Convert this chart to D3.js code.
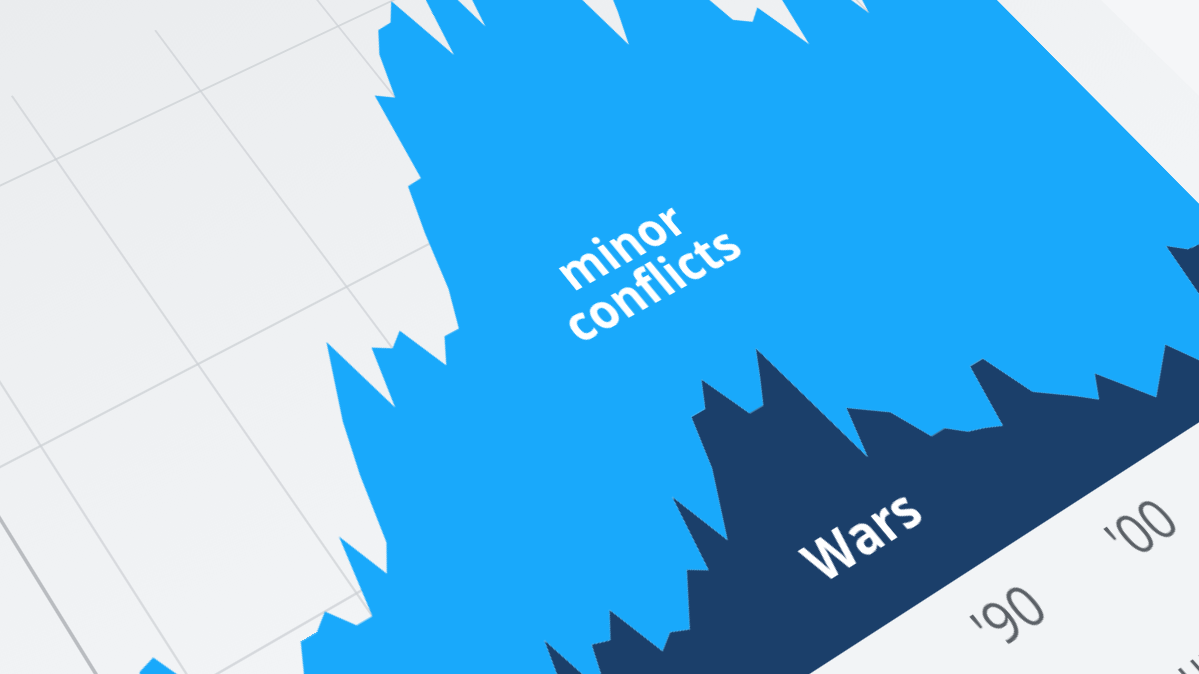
<!DOCTYPE html>
<html><head><meta charset="utf-8">
<script src="https://cdn.jsdelivr.net/npm/d3@7"></script>
<style>
html,body{margin:0;padding:0;width:1199px;height:674px;overflow:hidden;background:#f5f6f8;}
#chart{position:absolute;left:0;top:0;transform-origin:0 0 0;}
</style></head><body>
<svg id="chart"></svg>
<script>
// ---- data (number of armed conflicts per year) ----
const years = d3.range(1946, 2019);
const wars = [3,4,5,5,5,5,4,3,2,2, 4,3,4,3,3,4,4,3,4,5, 5,8.2,4.2,6.8,6.5,7.8,4.7,5.3,4.9,6.2,
  7.5,6.9,11.1,7.7,9.5,11.3,14.2,14.2,15.7,12.8, 12.8,14.2,15.7,7.6,10.4,9.7,9.0,6.8,6.8,6.0,
  5.7,5.3,8.9,8.9,6.0,5.3,4.6,3.8,5.1,3.7, 2.3,3.0,3.7,4.4,2.7,3.0,3.6,4.5,9.0,8.2, 8.1,7.5,6.8];
const minor = [13,11,12,12.3,10,8.5,9,10,10,10.5, 10.3,11.3,11,10.6,10.6,14,11.1,13.5,16.3,18.3,
  20.5,19.5,18.4,19.4,19.1,18.5,18.6,19.5,19.9,20.9, 23.2,26.8,22.7,32.1,29.6,30.8,29.4,29.5,29.3,27.1,
  31.5,34.7,25,37.1,39.6,42.3,42,40.2,38.7,29.4, 32,35.1,35.1,36.1,37,34.7,29.2,29.3,28.7,26.4,
  32.1,33,33.3,30,27.4,30.2,31.4,32.5,33,41.8, 42.9,41.5,44.2];
const xTickYears = [1950,1960,1970,1980,1990,2000,2010];
const yTickValues = [15,30,45];
const seriesKeys = ["wars","minor"];
const seriesColors = ["#1b3f6a","#19a9fb"];

// ---- flat chart ----
const FW = 1520, FH = 1240;
const x = d3.scaleLinear().domain([1946,2018]).range([128,1280]);
const y = d3.scaleLinear().domain([0,50]).range([992,192]);

const svg = d3.select("#chart").attr("width",FW).attr("height",FH);
const defs = svg.append("defs");
const grad = defs.append("linearGradient").attr("id","bg").attr("gradientUnits","userSpaceOnUse")
  .attr("x1",0).attr("y1",0).attr("x2",0).attr("y2",800);
grad.append("stop").attr("offset",0).attr("stop-color","#e9ebed");
grad.append("stop").attr("offset",1).attr("stop-color","#f2f4f6");

// card
svg.append("rect").attr("x",0).attr("y",0).attr("width",x(2024)).attr("height",FH).attr("fill","url(#bg)");

// grid
const grid = svg.append("g").attr("stroke","#cdd0d4").attr("stroke-width",1.4);
grid.selectAll("line.v").data(xTickYears).join("line")
  .attr("x1",d=>x(d)).attr("x2",d=>x(d)).attr("y1",y(0)).attr("y2",y(50));
grid.selectAll("line.h").data(yTickValues).join("line")
  .attr("x1",x(1946)).attr("x2",x(2018)).attr("y1",d=>y(d)).attr("y2",d=>y(d));

// y axis (domain line only)
const yAxis = svg.append("g").attr("transform",`translate(${x(1946)},0)`)
  .call(d3.axisLeft(y).tickValues([]).tickSizeOuter(0));
yAxis.select(".domain").attr("stroke","#b9bcc0").attr("stroke-width",3);

// stacked areas
const table = years.map((yr,i)=>({year:yr, wars:wars[i], minor:minor[i]}));
const stacked = d3.stack().keys(seriesKeys)(table);
const area = d3.area().x(d=>x(d.data.year)).y0(d=>y(d[0])).y1(d=>y(d[1]));
svg.append("g").selectAll("path").data(stacked).join("path")
  .attr("d",area).attr("fill",(d,i)=>seriesColors[i]);

// x axis labels
const xAxis = svg.append("g").attr("transform",`translate(0,${y(0)})`)
  .call(d3.axisBottom(x).tickValues(xTickYears).tickSize(0).tickPadding(30)
    .tickFormat(d=>"'"+String(d%100).padStart(2,"0")));
xAxis.select(".domain").remove();
xAxis.selectAll("text").attr("font-family","Open Sans").attr("font-size",48)
  .attr("fill","#5b6066").attr("dx",-12);

// source note
svg.append("text").attr("x",x(1992)).attr("y",y(-10.8))
  .attr("font-family","Open Sans").attr("font-size",40).attr("fill","#5b6066")
  .text("Source: UCDP");

// series labels
svg.append("text").attr("x",x(1985.6)).attr("y",y(3.3)).attr("text-anchor","middle")
  .attr("font-family","Open Sans").attr("font-weight",700).attr("font-size",47).attr("fill","#fff")
  .text("Wars");
const ml = svg.append("text").attr("text-anchor","middle")
  .attr("font-family","Open Sans").attr("font-weight",700).attr("font-size",46).attr("fill","#fff");
ml.append("tspan").attr("x",x(1985.5)).attr("y",y(23.5)).text("minor");
ml.append("tspan").attr("x",x(1985.5)).attr("y",y(20.7)).text("conflicts");

// ---- camera: perspective view of the flat chart ----
const cam = {origin:[535.3,851.2], vt:[5800,-2550], vv:[-2488,-3512], a:0.003071, b:0.06282, t0:1960, step:15};
const Hm = [[cam.a*cam.vt[0], cam.b*cam.vv[0], cam.origin[0]],
            [cam.a*cam.vt[1], cam.b*cam.vv[1], cam.origin[1]],
            [cam.a, cam.b, 1]];
const ax = x.invert(1)-x.invert(0), bx = x.invert(0)-cam.t0;
const ay = (y.invert(1)-y.invert(0))/cam.step, by = y.invert(0)/cam.step;
const A = [[ax,0,bx],[0,ay,by],[0,0,1]];
const M = Hm.map(r=>[0,1,2].map(j=>r[0]*A[0][j]+r[1]*A[1][j]+r[2]*A[2][j]));
const n = M[2][2];
const m = M.map(r=>r.map(v=>v/n));
d3.select("#chart").style("transform",
  `matrix3d(${m[0][0]},${m[1][0]},0,${m[2][0]},${m[0][1]},${m[1][1]},0,${m[2][1]},0,0,1,0,${m[0][2]},${m[1][2]},0,${m[2][2]})`);
</script>
</body></html>
